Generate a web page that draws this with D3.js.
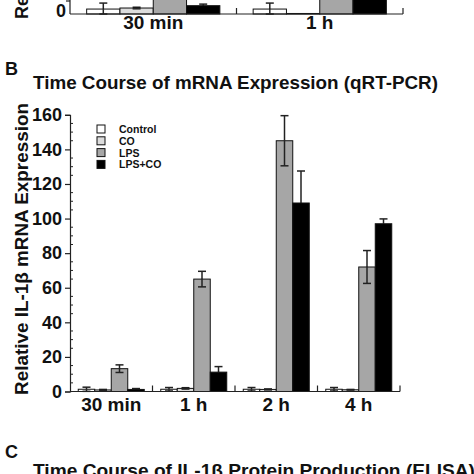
<!DOCTYPE html>
<html>
<head>
<meta charset="utf-8">
<script src="https://cdn.jsdelivr.net/npm/d3@7"></script>
<style>
  body { margin: 0; background: #fff; }
  svg { display: block; font-family: "Liberation Sans", Arial, sans-serif; font-weight: bold; }
</style>
</head>
<body>
<svg width="474" height="474"></svg>
<script>
const width = 474;
const height = 474;

const series = ["Control", "CO", "LPS", "LPS+CO"];
const colors = ["#ffffff", "#dcdcdc", "#a6a6a6", "#000000"];

// panel A (only its lower edge is visible)
const timesA = ["30 min", "1 h"];
const valuesA = [
    [1.9, 2.3, 40, 3.2],
    [1.9, 0.2, 50, 45]
];
const errorsA = [
    [2.3, 0.3, 0, 0.6],
    [2.3, 0, 0, 0]
];

// panel B
const timesB = ["30 min", "1 h", "2 h", "4 h"];
const valuesB = [
    [1.3, 0.9, 13.2, 1.2],
    [1.3, 1.8, 65, 11.2],
    [1.3, 1.2, 145, 109],
    [1.3, 1.0, 72, 97]
];
const errorsB = [
    [1.2, 0.3, 2.2, 0.5],
    [1.0, 0.4, 4.5, 3.2],
    [1.0, 0.3, 14.5, 18.5],
    [1.0, 0.2, 9.5, 2.8]
];
const yTicksB = [0, 20, 40, 60, 80, 100, 120, 140, 160];

const svg = d3.select("svg");

// stretch glyphs a little to the width of the original (Helvetica is wider)
function stretch(sel, target) {
    return sel.attr("textLength", target).attr("lengthAdjust", "spacingAndGlyphs");
}

function drawBars(g, times, values, errors, xScale, yScale) {
    const inner = d3.scaleBand()
        .domain(series)
        .range([0, xScale.bandwidth()])
        .paddingOuter(0.5);

    const groups = g.selectAll(".group")
        .data(times)
        .enter()
        .append("g")
        .attr("class", "group")
        .attr("transform", d => `translate(${xScale(d)},0)`);

    // upper whisker
    groups.each(function(t, i) {
        series.forEach((s, j) => {
            const v = values[i][j], e = errors[i][j];
            if (!e) return;
            const cx = inner(s) + inner.bandwidth() / 2;
            const sel = d3.select(this).append("g")
                .attr("stroke", "#222").attr("stroke-width", 1.5);
            sel.append("line")
                .attr("x1", cx).attr("x2", cx)
                .attr("y1", yScale(v)).attr("y2", yScale(v + e));
            sel.append("line")
                .attr("x1", cx - 4).attr("x2", cx + 4)
                .attr("y1", yScale(v + e)).attr("y2", yScale(v + e));
        });
    });

    groups.selectAll("rect")
        .data((d, i) => series.map((s, j) => ({ s, v: values[i][j], c: colors[j] })))
        .enter()
        .append("rect")
        .attr("x", d => inner(d.s))
        .attr("y", d => yScale(d.v))
        .attr("width", inner.bandwidth())
        .attr("height", d => yScale(0) - yScale(d.v))
        .attr("fill", d => d.c)
        .attr("stroke", "#111")
        .attr("stroke-width", 1);

    // lower whisker, drawn over the lighter bars
    groups.each(function(t, i) {
        series.forEach((s, j) => {
            const v = values[i][j], e = errors[i][j];
            if (!e || j === 3) return;
            const cx = inner(s) + inner.bandwidth() / 2;
            const lo = Math.max(0, v - e);
            const sel = d3.select(this).append("g")
                .attr("stroke", "#222").attr("stroke-width", 1.5);
            sel.append("line")
                .attr("x1", cx).attr("x2", cx)
                .attr("y1", yScale(v)).attr("y2", yScale(lo));
            sel.append("line")
                .attr("x1", cx - 4).attr("x2", cx + 4)
                .attr("y1", yScale(lo)).attr("y2", yScale(lo));
        });
    });
}

function drawXAxis(g, xScale, y0, labelDy) {
    g.append("line")
        .attr("x1", xScale.range()[0]).attr("x2", xScale.range()[1])
        .attr("y1", y0).attr("y2", y0)
        .attr("stroke", "#222").attr("stroke-width", 1.2);
    const bounds = xScale.domain().map(d => xScale(d) + xScale.bandwidth());
    g.selectAll(".xtick")
        .data(bounds)
        .enter()
        .append("line")
        .attr("x1", d => d).attr("x2", d => d)
        .attr("y1", y0).attr("y2", y0 - 6)
        .attr("stroke", "#222").attr("stroke-width", 1.2);
    g.selectAll(".xlabel")
        .data(xScale.domain())
        .enter()
        .append("text")
        .attr("x", d => xScale(d) + xScale.bandwidth() / 2)
        .attr("y", y0 + labelDy)
        .attr("text-anchor", "middle")
        .attr("font-size", 19)
        .attr("fill", "#111")
        .text(d => d);
}

// ---------- panel A ----------
const gA = svg.append("g");
const xA = d3.scaleBand().domain(timesA).range([70, 403]);
const yA = d3.scaleLinear().domain([0, 5]).range([14, 1]);
drawBars(gA, timesA, valuesA, errorsA, xA, yA);
drawXAxis(gA, xA, yA(0), 15);
gA.append("line")
    .attr("x1", 70).attr("x2", 70).attr("y1", 0).attr("y2", yA(0))
    .attr("stroke", "#222").attr("stroke-width", 1.2);
gA.append("line")
    .attr("x1", 66).attr("x2", 70).attr("y1", yA(5)).attr("y2", yA(5))
    .attr("stroke", "#222").attr("stroke-width", 1.2);
gA.append("text")
    .attr("x", 66).attr("y", 17)
    .attr("text-anchor", "end").attr("font-size", 18).attr("fill", "#111")
    .text("0");
gA.append("text")
    .attr("transform", `translate(28,19) rotate(-90)`)
    .attr("font-size", 18).attr("fill", "#111")
    .text("Relative IL-1β Protein Expression");

// ---------- panel B ----------
const gB = svg.append("g");
const xB = d3.scaleBand().domain(timesB).range([70, 400]);
const yB = d3.scaleLinear().domain([0, 160]).range([391.5, 114.8]);

svg.append("text")
    .attr("x", 5).attr("y", 75)
    .attr("font-size", 18).attr("fill", "#111")
    .text("B");
stretch(svg.append("text")
    .attr("x", 33).attr("y", 89)
    .attr("font-size", 18.5).attr("fill", "#111")
    .text("Time Course of mRNA Expression (qRT-PCR)"), 405);

drawBars(gB, timesB, valuesB, errorsB, xB, yB);
drawXAxis(gB, xB, yB(0), 19);

const yAxis = d3.axisLeft(yB)
    .tickValues(yTicksB)
    .tickSize(5)
    .tickPadding(3);
const yAxisG = gB.append("g")
    .attr("transform", "translate(70,0)")
    .call(yAxis);
yAxisG.select(".domain").attr("stroke", "#222").attr("stroke-width", 1.2);
yAxisG.selectAll(".tick line").attr("stroke", "#222").attr("stroke-width", 1.2);
yAxisG.selectAll(".tick text")
    .attr("font-size", 18)
    .attr("font-family", "Liberation Sans, Arial, sans-serif")
    .attr("font-weight", "bold")
    .attr("fill", "#111");

const minor = d3.range(0, 161, 5).filter(v => v % 20 !== 0);
gB.selectAll(".minor")
    .data(minor)
    .enter()
    .append("line")
    .attr("x1", 70).attr("x2", 73)
    .attr("y1", d => yB(d)).attr("y2", d => yB(d))
    .attr("stroke", "#222").attr("stroke-width", 1);

stretch(gB.append("text")
    .attr("transform", `translate(28,395) rotate(-90)`)
    .attr("font-size", 18).attr("fill", "#111")
    .text("Relative IL-1β mRNA Expression"), 292);

// legend
const legend = gB.append("g").attr("transform", "translate(97,125)");
legend.selectAll("rect")
    .data(series)
    .enter()
    .append("rect")
    .attr("x", 0)
    .attr("y", (d, i) => i * 11.8)
    .attr("width", 8)
    .attr("height", 8)
    .attr("fill", (d, i) => colors[i])
    .attr("stroke", "#111")
    .attr("stroke-width", 1);
legend.selectAll("text")
    .data(series)
    .enter()
    .append("text")
    .attr("x", 22)
    .attr("y", (d, i) => i * 11.8 + 8)
    .attr("font-size", 10.5)
    .attr("fill", "#111")
    .text(d => d);

// ---------- panel C (title only visible) ----------
svg.append("text")
    .attr("x", 5).attr("y", 458)
    .attr("font-size", 18).attr("fill", "#111")
    .text("C");
stretch(svg.append("text")
    .attr("x", 33).attr("y", 477)
    .attr("font-size", 19).attr("fill", "#111")
    .text("Time Course of IL-1β Protein Production (ELISA)"), 442);
</script>
</body>
</html>
